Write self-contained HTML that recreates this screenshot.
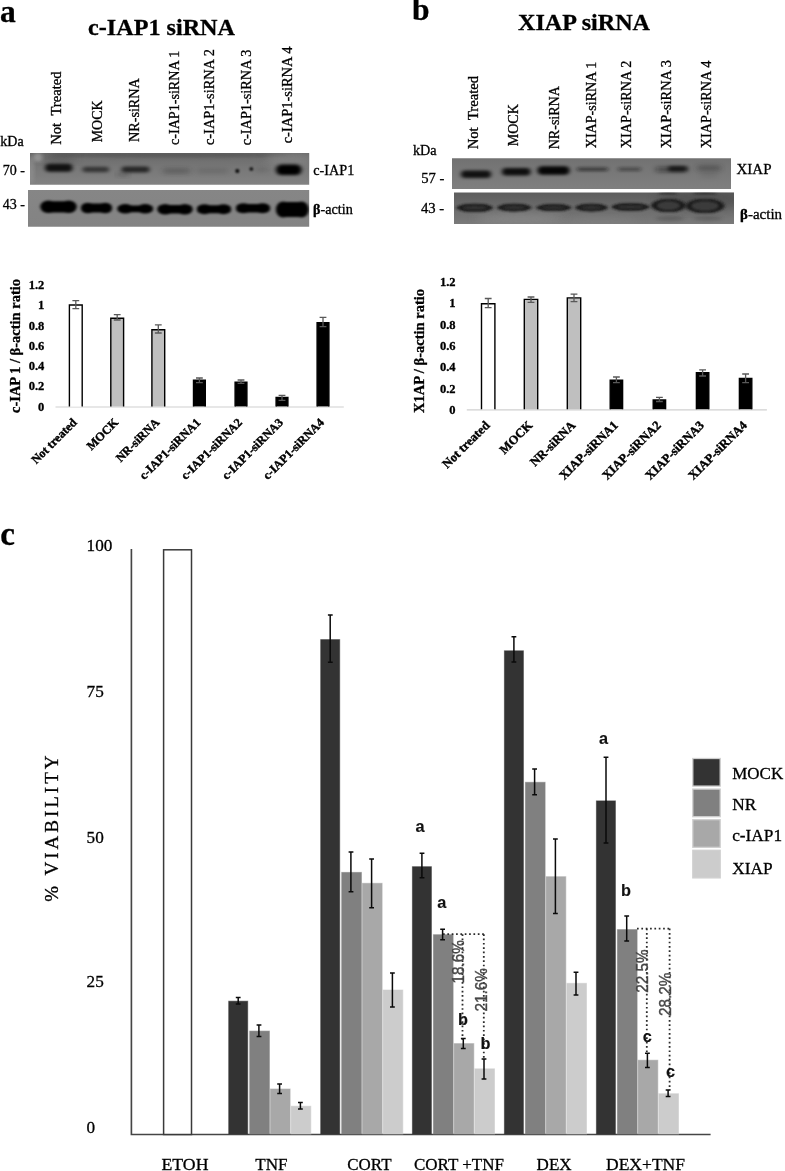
<!DOCTYPE html>
<html><head><meta charset="utf-8"><title>Figure</title>
<style>html,body{margin:0;padding:0;background:#fff}svg{display:block}</style></head>
<body><svg width="785" height="1171" viewBox="0 0 785 1171">
<rect width="785" height="1171" fill="#fff"/>
<text x="0" y="22.2" font-size="31.5" font-family="Liberation Serif, serif" font-weight="bold" stroke="#000" stroke-width="0.3" >a</text>
<text x="412" y="20.3" font-size="31.5" font-family="Liberation Serif, serif" font-weight="bold" stroke="#000" stroke-width="0.3" >b</text>
<text x="0.3" y="544.5" font-size="33" font-family="Liberation Serif, serif" font-weight="bold" stroke="#000" stroke-width="0.3" >c</text>
<text x="88" y="34.5" font-size="24" font-family="Liberation Serif, serif" font-weight="bold" textLength="147" lengthAdjust="spacingAndGlyphs" stroke="#000" stroke-width="0.3" >c-IAP1 siRNA</text>
<text x="518" y="30" font-size="24" font-family="Liberation Serif, serif" font-weight="bold" textLength="132" lengthAdjust="spacingAndGlyphs" stroke="#000" stroke-width="0.3" >XIAP siRNA</text>
<text x="61.5" y="144.8" font-size="14.2" font-family="Liberation Serif, serif" transform="rotate(-90 61.5 144.8)" textLength="73.3" lengthAdjust="spacingAndGlyphs" stroke="#000" stroke-width="0.3" >Not&#160;&#160;Treated</text>
<text x="102.3" y="142.3" font-size="14.2" font-family="Liberation Serif, serif" transform="rotate(-90 102.3 142.3)" textLength="41.8" lengthAdjust="spacingAndGlyphs" stroke="#000" stroke-width="0.3" >MOCK</text>
<text x="139" y="142" font-size="14.2" font-family="Liberation Serif, serif" transform="rotate(-90 139 142)" textLength="63.8" lengthAdjust="spacingAndGlyphs" stroke="#000" stroke-width="0.3" >NR-siRNA</text>
<text x="179" y="145" font-size="14.2" font-family="Liberation Serif, serif" transform="rotate(-90 179 145)" textLength="94.4" lengthAdjust="spacingAndGlyphs" stroke="#000" stroke-width="0.3" >c-IAP1-siRNA 1</text>
<text x="213.5" y="145" font-size="14.2" font-family="Liberation Serif, serif" transform="rotate(-90 213.5 145)" textLength="95.8" lengthAdjust="spacingAndGlyphs" stroke="#000" stroke-width="0.3" >c-IAP1-siRNA 2</text>
<text x="251.2" y="145.3" font-size="14.2" font-family="Liberation Serif, serif" transform="rotate(-90 251.2 145.3)" textLength="95.8" lengthAdjust="spacingAndGlyphs" stroke="#000" stroke-width="0.3" >c-IAP1-siRNA 3</text>
<text x="291.6" y="143.3" font-size="14.2" font-family="Liberation Serif, serif" transform="rotate(-90 291.6 143.3)" textLength="96.8" lengthAdjust="spacingAndGlyphs" stroke="#000" stroke-width="0.3" >c-IAP1-siRNA 4</text>
<text x="0.3" y="146.3" font-size="14" font-family="Liberation Serif, serif" stroke="#000" stroke-width="0.3" >kDa</text>
<text x="2.8" y="174.5" font-size="14" font-family="Liberation Serif, serif" stroke="#000" stroke-width="0.3" >70 -</text>
<text x="2.8" y="209" font-size="14" font-family="Liberation Serif, serif" stroke="#000" stroke-width="0.3" >43 -</text>
<text x="313.3" y="175.2" font-size="14.2" font-family="Liberation Serif, serif" stroke="#000" stroke-width="0.3" >c-IAP1</text>
<text x="313" y="214" font-size="14.2" font-family="Liberation Serif, serif" stroke="#000" stroke-width=".3"><tspan font-weight="bold">β</tspan>-actin</text>
<defs>
<filter id="b1" x="-20%" y="-100%" width="140%" height="300%"><feGaussianBlur stdDeviation="2 1.5"/></filter>
<filter id="b1s" x="-20%" y="-100%" width="140%" height="300%"><feGaussianBlur stdDeviation="1.5 1.2"/></filter>
<filter id="b2" x="-20%" y="-100%" width="140%" height="300%"><feGaussianBlur stdDeviation="3 2"/></filter>
<filter id="b3" x="-50%" y="-50%" width="200%" height="200%"><feGaussianBlur stdDeviation="5"/></filter>
<filter id="b4" x="-50%" y="-100%" width="200%" height="300%"><feGaussianBlur stdDeviation="9 4"/></filter>
<filter id="b0" x="-50%" y="-50%" width="200%" height="200%"><feGaussianBlur stdDeviation="0.8"/></filter>
<linearGradient id="ga1" x1="0" y1="0" x2="0" y2="1"><stop offset="0" stop-color="#686868"/><stop offset=".45" stop-color="#777"/><stop offset="1" stop-color="#838383"/></linearGradient>
<linearGradient id="ga2" x1="0" y1="0" x2="0" y2="1"><stop offset="0" stop-color="#868686"/><stop offset="1" stop-color="#838383"/></linearGradient>
<linearGradient id="gb1" x1="0" y1="0" x2="0" y2="1"><stop offset="0" stop-color="#717171"/><stop offset="1" stop-color="#808080"/></linearGradient>
<linearGradient id="gb2" x1="0" y1="0" x2="0" y2="1"><stop offset="0" stop-color="#5c5c5c"/><stop offset=".5" stop-color="#6c6c6c"/><stop offset="1" stop-color="#7c7c7c"/></linearGradient>
<clipPath id="ca1"><rect x="30" y="153" width="279.2" height="31.7"/></clipPath>
<clipPath id="ca2"><rect x="28" y="190" width="281.2" height="36.8"/></clipPath>
<clipPath id="cb1"><rect x="452" y="158.2" width="279" height="30.8"/></clipPath>
<clipPath id="cb2"><rect x="454" y="192.4" width="280" height="31.6"/></clipPath>
</defs>
<g clip-path="url(#ca1)"><rect x="29" y="152" width="282" height="34" fill="url(#ga1)"/>
<ellipse cx="38" cy="157.5" rx="4.5" ry="4.5" fill="#a0a0a0" opacity="0.8" filter="url(#b1)"/>
<ellipse cx="170" cy="155" rx="120" ry="2.5" fill="#4a4a4a" opacity="0.5" filter="url(#b1)"/>
<ellipse cx="31" cy="170" rx="3" ry="14" fill="#999" opacity="0.6" filter="url(#b1)"/>
<ellipse cx="290" cy="160" rx="25" ry="6" fill="#8a8a8a" opacity="0.7" filter="url(#b3)"/>
<ellipse cx="60" cy="158" rx="16" ry="4" fill="#444" opacity="0.5" filter="url(#b3)"/>
<rect x="45" y="163.8" width="27.5" height="8" rx="4.0" fill="#000" opacity="0.85" filter="url(#b1)"/>
<rect x="82.5" y="166.85" width="26.5" height="5.5" rx="2.75" fill="#000" opacity="0.55" filter="url(#b1)"/>
<rect x="121.5" y="166.6" width="28.0" height="6" rx="3.0" fill="#000" opacity="0.68" filter="url(#b1)"/>
<rect x="117" y="173.0" width="12" height="3" rx="1.5" fill="#222" opacity="0.35" filter="url(#b2)"/>
<rect x="163" y="168.5" width="27" height="5" rx="2.5" fill="#222" opacity="0.32" filter="url(#b2)"/>
<rect x="197" y="168.5" width="31" height="5" rx="2.5" fill="#333" opacity="0.2" filter="url(#b2)"/>
<circle cx="237.3" cy="171" r="2" fill="#000" filter="url(#b0)"/>
<circle cx="251.3" cy="169" r="1.8" fill="#000" filter="url(#b0)"/>
<rect x="255" y="168.0" width="13" height="4" rx="2.0" fill="#333" opacity="0.2" filter="url(#b2)"/>
<rect x="276" y="164.55" width="25.5" height="10.5" rx="5.25" fill="#000" opacity="1" filter="url(#b1)"/>
</g>
<g clip-path="url(#ca2)"><rect x="27" y="189" width="284" height="39" fill="url(#ga2)"/>
<g filter="url(#b1s)"><rect x="40.5" y="201.175" width="36.0" height="11.25" rx="5.625" fill="#000"/><ellipse cx="48.42" cy="206.8" rx="7.92" ry="6.25" fill="#000"/><ellipse cx="68.58" cy="206.8" rx="7.92" ry="6.25" fill="#000"/></g>
<g filter="url(#b1s)"><rect x="81" y="203.5375" width="31" height="8.924999999999999" rx="4.4624999999999995" fill="#000"/><ellipse cx="87.82" cy="208" rx="6.82" ry="5.25" fill="#000"/><ellipse cx="105.18" cy="208" rx="6.82" ry="5.25" fill="#000"/></g>
<g filter="url(#b1s)"><rect x="117.5" y="205.47500000000002" width="35.5" height="6.6499999999999995" rx="3.3249999999999997" fill="#000"/><ellipse cx="125.31" cy="208.8" rx="7.81" ry="4.75" fill="#000"/><ellipse cx="145.19" cy="208.8" rx="7.81" ry="4.75" fill="#000"/></g>
<g filter="url(#b1s)"><rect x="157.5" y="205.10000000000002" width="35.0" height="8.4" rx="4.2" fill="#000"/><ellipse cx="165.2" cy="209.3" rx="7.7" ry="5.25" fill="#000"/><ellipse cx="184.8" cy="209.3" rx="7.7" ry="5.25" fill="#000"/></g>
<g filter="url(#b1s)"><rect x="197" y="205.3" width="34" height="8.0" rx="4.0" fill="#000"/><ellipse cx="204.48" cy="209.3" rx="7.48" ry="5.0" fill="#000"/><ellipse cx="223.52" cy="209.3" rx="7.48" ry="5.0" fill="#000"/></g>
<g filter="url(#b1s)"><rect x="236" y="203.95" width="34" height="8.5" rx="4.25" fill="#000"/><ellipse cx="243.48" cy="208.2" rx="7.48" ry="5.0" fill="#000"/><ellipse cx="262.52" cy="208.2" rx="7.48" ry="5.0" fill="#000"/></g>
<g filter="url(#b1s)"><rect x="276" y="201.9" width="32.60000000000002" height="15.2" rx="7.6" fill="#000"/><ellipse cx="283.172" cy="209.5" rx="7.172000000000005" ry="8.0" fill="#000"/><ellipse cx="301.428" cy="209.5" rx="7.172000000000005" ry="8.0" fill="#000"/></g>
</g>
<text x="477.7" y="149.3" font-size="14.2" font-family="Liberation Serif, serif" transform="rotate(-90 477.7 149.3)" textLength="73.4" lengthAdjust="spacingAndGlyphs" stroke="#000" stroke-width="0.3" >Not&#160;&#160;Treated</text>
<text x="518" y="146.3" font-size="14.2" font-family="Liberation Serif, serif" transform="rotate(-90 518 146.3)" textLength="42.2" lengthAdjust="spacingAndGlyphs" stroke="#000" stroke-width="0.3" >MOCK</text>
<text x="559.3" y="149.3" font-size="14.2" font-family="Liberation Serif, serif" transform="rotate(-90 559.3 149.3)" textLength="63.2" lengthAdjust="spacingAndGlyphs" stroke="#000" stroke-width="0.3" >NR-siRNA</text>
<text x="595.9" y="148.3" font-size="14.2" font-family="Liberation Serif, serif" transform="rotate(-90 595.9 148.3)" textLength="86.6" lengthAdjust="spacingAndGlyphs" stroke="#000" stroke-width="0.3" >XIAP-siRNA 1</text>
<text x="631.2" y="148.3" font-size="14.2" font-family="Liberation Serif, serif" transform="rotate(-90 631.2 148.3)" textLength="87.6" lengthAdjust="spacingAndGlyphs" stroke="#000" stroke-width="0.3" >XIAP-siRNA 2</text>
<text x="671.3" y="148.3" font-size="14.2" font-family="Liberation Serif, serif" transform="rotate(-90 671.3 148.3)" textLength="88.2" lengthAdjust="spacingAndGlyphs" stroke="#000" stroke-width="0.3" >XIAP-siRNA 3</text>
<text x="711.3" y="148.3" font-size="14.2" font-family="Liberation Serif, serif" transform="rotate(-90 711.3 148.3)" textLength="87.6" lengthAdjust="spacingAndGlyphs" stroke="#000" stroke-width="0.3" >XIAP-siRNA 4</text>
<text x="413" y="155.3" font-size="14.2" font-family="Liberation Serif, serif" stroke="#000" stroke-width="0.3" >kDa</text>
<text x="421.2" y="183" font-size="14.7" font-family="Liberation Serif, serif" stroke="#000" stroke-width="0.3" >57 -</text>
<text x="421" y="213.3" font-size="14.7" font-family="Liberation Serif, serif" stroke="#000" stroke-width="0.3" >43 -</text>
<text x="736.5" y="173.8" font-size="15" font-family="Liberation Serif, serif" stroke="#000" stroke-width="0.3" >XIAP</text>
<text x="740" y="218.6" font-size="15" font-family="Liberation Serif, serif" stroke="#000" stroke-width=".3"><tspan font-weight="bold">β</tspan>-actin</text>
<g clip-path="url(#cb1)"><rect x="451" y="157" width="282" height="34" fill="url(#gb1)"/>
<rect x="461" y="170.55" width="30" height="7.5" rx="3.75" fill="#000" opacity="0.85" filter="url(#b1)"/>
<rect x="502" y="168.05" width="28.5" height="7.5" rx="3.75" fill="#000" opacity="0.88" filter="url(#b1)"/>
<rect x="537.5" y="166.35" width="32.0" height="8.5" rx="4.25" fill="#000" opacity="0.95" filter="url(#b1)"/>
<rect x="577" y="167.45" width="31" height="3.5" rx="1.75" fill="#111" opacity="0.6" filter="url(#b1)"/>
<rect x="618" y="167.45" width="23" height="3.5" rx="1.75" fill="#111" opacity="0.45" filter="url(#b1)"/>
<rect x="656" y="167.15" width="31" height="4.5" rx="2.25" fill="#111" opacity="0.55" filter="url(#b2)"/>
<rect x="668" y="166.05" width="19.5" height="5.5" rx="2.75" fill="#000" opacity="0.7" filter="url(#b1)"/>
<rect x="697" y="165.0" width="24" height="6" rx="3.0" fill="#222" opacity="0.35" filter="url(#b2)"/>
<rect x="700" y="170.0" width="18" height="8" rx="4.0" fill="#555" opacity="0.2" filter="url(#b2)"/>
</g>
<g clip-path="url(#cb2)"><rect x="453" y="191" width="283" height="35" fill="url(#gb2)"/>
<ellipse cx="520" cy="219" rx="45" ry="5" fill="#8c8c8c" opacity="0.8" filter="url(#b3)"/>
<ellipse cx="600" cy="222" rx="40" ry="4" fill="#858585" opacity="0.6" filter="url(#b3)"/>
<ellipse cx="700" cy="200" rx="45" ry="9" fill="#4c4c4c" opacity="0.7" filter="url(#b3)"/>
<ellipse cx="668" cy="193.3" rx="10" ry="1.3" fill="#222" opacity="0.7" filter="url(#b1s)"/>
<ellipse cx="705" cy="193.3" rx="12" ry="1.3" fill="#222" opacity="0.7" filter="url(#b1s)"/>
<ellipse cx="670" cy="218.5" rx="14" ry="2.2" fill="#3a3a3a" opacity="0.35" filter="url(#b1)"/>
<ellipse cx="708" cy="218.5" rx="14" ry="2.2" fill="#3a3a3a" opacity="0.3" filter="url(#b1)"/>
<g filter="url(#b1s)" fill="#1c1c1c"><ellipse cx="474.75" cy="207.8" rx="18.25" ry="4.0"/><rect x="461.5" y="204.10000000000002" width="26.5" height="7.4" rx="4.0"/></g>
<ellipse cx="474.75" cy="207.8" rx="12.25" ry="1.7999999999999998" fill="#343434" filter="url(#b0)"/>
<g filter="url(#b1s)" fill="#1c1c1c"><ellipse cx="514.25" cy="207.6" rx="17.25" ry="3.8"/><rect x="502" y="204.1" width="24.5" height="7.0" rx="3.8"/></g>
<ellipse cx="514.25" cy="207.6" rx="11.25" ry="1.5999999999999996" fill="#343434" filter="url(#b0)"/>
<g filter="url(#b1s)" fill="#1c1c1c"><ellipse cx="553.75" cy="207.6" rx="17.75" ry="3.5"/><rect x="541" y="204.4" width="25.5" height="6.4" rx="3.5"/></g>
<ellipse cx="553.75" cy="207.6" rx="11.75" ry="1.2999999999999998" fill="#343434" filter="url(#b0)"/>
<g filter="url(#b1s)" fill="#1c1c1c"><ellipse cx="591.5" cy="207.6" rx="16.5" ry="3.8"/><rect x="580" y="204.1" width="23" height="7.0" rx="3.8"/></g>
<ellipse cx="591.5" cy="207.6" rx="10.5" ry="1.5999999999999996" fill="#343434" filter="url(#b0)"/>
<g filter="url(#b1s)" fill="#1c1c1c"><ellipse cx="630.5" cy="207" rx="19.0" ry="3.8"/><rect x="616.5" y="203.5" width="28.0" height="7.0" rx="3.8"/></g>
<ellipse cx="630.5" cy="207" rx="13.0" ry="1.5999999999999996" fill="#343434" filter="url(#b0)"/>
<g filter="url(#b1s)" fill="#1c1c1c"><ellipse cx="668.5" cy="205.6" rx="17.5" ry="6.5"/><rect x="656" y="199.4" width="25" height="12.4" rx="6.5"/></g>
<ellipse cx="668.5" cy="205.6" rx="11.5" ry="4.3" fill="#3a3a3a" filter="url(#b0)"/>
<g filter="url(#b1s)" fill="#1c1c1c"><ellipse cx="705.0" cy="206" rx="19.5" ry="7.0"/><rect x="690.5" y="199.3" width="29.0" height="13.4" rx="7.0"/></g>
<ellipse cx="705.0" cy="206" rx="13.5" ry="4.8" fill="#3a3a3a" filter="url(#b0)"/>
</g>
<line x1="55.5" y1="407" x2="343.8" y2="407" stroke="#d0d0d0" stroke-width="1.2"/>
<path d="M69.4 406.4V305.0H82.2V406.4" fill="#fff" stroke="#000" stroke-width="1.4"/>
<path d="M75.8 300.6V308.7M72.39999999999999 300.6h6.8M72.39999999999999 308.7h6.8" stroke="#595959" stroke-width="1.3" fill="none"/>
<path d="M110.8 406.4V318.20000000000005H123.6V406.4" fill="#bfbfbf" stroke="#000" stroke-width="1.4"/>
<path d="M117.2 314.6V320M113.8 314.6h6.8M113.8 320h6.8" stroke="#595959" stroke-width="1.3" fill="none"/>
<path d="M151.9 406.4V329.70000000000005H164.7V406.4" fill="#bfbfbf" stroke="#000" stroke-width="1.4"/>
<path d="M158.3 324.8V333M154.9 324.8h6.8M154.9 333h6.8" stroke="#595959" stroke-width="1.3" fill="none"/>
<path d="M193.5 406.4V380.20000000000005H205.3V406.4" fill="#000" stroke="#000" stroke-width="1.4"/>
<path d="M199.4 378V382.6M196.0 378h6.8M196.0 382.6h6.8" stroke="#595959" stroke-width="1.3" fill="none"/>
<path d="M235.1 406.4V382.20000000000005H246.9V406.4" fill="#000" stroke="#000" stroke-width="1.4"/>
<path d="M241 380V383.4M237.6 380h6.8M237.6 383.4h6.8" stroke="#595959" stroke-width="1.3" fill="none"/>
<path d="M276.1 406.4V397.5H287.9V406.4" fill="#000" stroke="#000" stroke-width="1.4"/>
<path d="M282 395.4V400.4M278.6 395.4h6.8M278.6 400.4h6.8" stroke="#595959" stroke-width="1.3" fill="none"/>
<path d="M317.1 406.4V322.8H328.9V406.4" fill="#000" stroke="#000" stroke-width="1.4"/>
<path d="M323 317.4V326.6M319.6 317.4h6.8M319.6 326.6h6.8" stroke="#595959" stroke-width="1.3" fill="none"/>
<text x="44.3" y="288.9" font-size="12.5" font-family="Liberation Serif, serif" font-weight="bold" text-anchor="end" stroke="#000" stroke-width="0.3" >1.2</text>
<text x="44.3" y="309.2" font-size="12.5" font-family="Liberation Serif, serif" font-weight="bold" text-anchor="end" stroke="#000" stroke-width="0.3" >1</text>
<text x="44.3" y="329.5" font-size="12.5" font-family="Liberation Serif, serif" font-weight="bold" text-anchor="end" stroke="#000" stroke-width="0.3" >0.8</text>
<text x="44.3" y="349.8" font-size="12.5" font-family="Liberation Serif, serif" font-weight="bold" text-anchor="end" stroke="#000" stroke-width="0.3" >0.6</text>
<text x="44.3" y="370.1" font-size="12.5" font-family="Liberation Serif, serif" font-weight="bold" text-anchor="end" stroke="#000" stroke-width="0.3" >0.4</text>
<text x="44.3" y="390.4" font-size="12.5" font-family="Liberation Serif, serif" font-weight="bold" text-anchor="end" stroke="#000" stroke-width="0.3" >0.2</text>
<text x="44.3" y="410.7" font-size="12.5" font-family="Liberation Serif, serif" font-weight="bold" text-anchor="end" stroke="#000" stroke-width="0.3" >0</text>
<text x="20" y="346" font-size="14" font-family="Liberation Serif, serif" font-weight="bold" text-anchor="middle" transform="rotate(-90 20 346)" textLength="134" lengthAdjust="spacingAndGlyphs" stroke="#000" stroke-width="0.3" >c-IAP 1 / β-actin ratio</text>
<text x="77.6" y="423.2" font-size="12.1" font-family="Liberation Serif, serif" font-weight="bold" text-anchor="end" transform="rotate(-45 77.6 423.2)" stroke="#000" stroke-width="0.4" >Not treated</text>
<text x="119.0" y="423.2" font-size="12.1" font-family="Liberation Serif, serif" font-weight="bold" text-anchor="end" transform="rotate(-45 119.0 423.2)" stroke="#000" stroke-width="0.4" >MOCK</text>
<text x="160.10000000000002" y="423.2" font-size="12.1" font-family="Liberation Serif, serif" font-weight="bold" text-anchor="end" transform="rotate(-45 160.10000000000002 423.2)" stroke="#000" stroke-width="0.4" >NR-siRNA</text>
<text x="201.20000000000002" y="423.2" font-size="12.1" font-family="Liberation Serif, serif" font-weight="bold" text-anchor="end" transform="rotate(-45 201.20000000000002 423.2)" stroke="#000" stroke-width="0.4" >c-IAP1-siRNA1</text>
<text x="242.8" y="423.2" font-size="12.1" font-family="Liberation Serif, serif" font-weight="bold" text-anchor="end" transform="rotate(-45 242.8 423.2)" stroke="#000" stroke-width="0.4" >c-IAP1-siRNA2</text>
<text x="283.8" y="423.2" font-size="12.1" font-family="Liberation Serif, serif" font-weight="bold" text-anchor="end" transform="rotate(-45 283.8 423.2)" stroke="#000" stroke-width="0.4" >c-IAP1-siRNA3</text>
<text x="324.8" y="423.2" font-size="12.1" font-family="Liberation Serif, serif" font-weight="bold" text-anchor="end" transform="rotate(-45 324.8 423.2)" stroke="#000" stroke-width="0.4" >c-IAP1-siRNA4</text>
<line x1="466.8" y1="409.8" x2="766.9" y2="409.8" stroke="#d0d0d0" stroke-width="1.2"/>
<path d="M481.5 409.2V303.70000000000005H494.9V409.2" fill="#fff" stroke="#000" stroke-width="1.4"/>
<path d="M488.2 298.5V307.7M484.8 298.5h6.8M484.8 307.7h6.8" stroke="#595959" stroke-width="1.3" fill="none"/>
<path d="M524.3 409.2V299.40000000000003H537.7V409.2" fill="#bfbfbf" stroke="#000" stroke-width="1.4"/>
<path d="M531 297V302.4M527.6 297h6.8M527.6 302.4h6.8" stroke="#595959" stroke-width="1.3" fill="none"/>
<path d="M567.3 409.2V297.90000000000003H580.7V409.2" fill="#bfbfbf" stroke="#000" stroke-width="1.4"/>
<path d="M574 294.2V301.6M570.6 294.2h6.8M570.6 301.6h6.8" stroke="#595959" stroke-width="1.3" fill="none"/>
<path d="M610.2 409.2V380.20000000000005H622.6V409.2" fill="#000" stroke="#000" stroke-width="1.4"/>
<path d="M616.4 377V382.6M613.0 377h6.8M613.0 382.6h6.8" stroke="#595959" stroke-width="1.3" fill="none"/>
<path d="M653.2 409.2V400.0H665.6V409.2" fill="#000" stroke="#000" stroke-width="1.4"/>
<path d="M659.4 397.4V401.5M656.0 397.4h6.8M656.0 401.5h6.8" stroke="#595959" stroke-width="1.3" fill="none"/>
<path d="M696.4 409.2V372.8H708.8V409.2" fill="#000" stroke="#000" stroke-width="1.4"/>
<path d="M702.6 369.9V376M699.2 369.9h6.8M699.2 376h6.8" stroke="#595959" stroke-width="1.3" fill="none"/>
<path d="M739.4 409.2V378.40000000000003H751.8V409.2" fill="#000" stroke="#000" stroke-width="1.4"/>
<path d="M745.6 374V382.6M742.2 374h6.8M742.2 382.6h6.8" stroke="#595959" stroke-width="1.3" fill="none"/>
<text x="455.5" y="286.0" font-size="12.5" font-family="Liberation Serif, serif" font-weight="bold" text-anchor="end" stroke="#000" stroke-width="0.3" >1.2</text>
<text x="455.5" y="307.3" font-size="12.5" font-family="Liberation Serif, serif" font-weight="bold" text-anchor="end" stroke="#000" stroke-width="0.3" >1</text>
<text x="455.5" y="328.6" font-size="12.5" font-family="Liberation Serif, serif" font-weight="bold" text-anchor="end" stroke="#000" stroke-width="0.3" >0.8</text>
<text x="455.5" y="349.9" font-size="12.5" font-family="Liberation Serif, serif" font-weight="bold" text-anchor="end" stroke="#000" stroke-width="0.3" >0.6</text>
<text x="455.5" y="371.2" font-size="12.5" font-family="Liberation Serif, serif" font-weight="bold" text-anchor="end" stroke="#000" stroke-width="0.3" >0.4</text>
<text x="455.5" y="392.5" font-size="12.5" font-family="Liberation Serif, serif" font-weight="bold" text-anchor="end" stroke="#000" stroke-width="0.3" >0.2</text>
<text x="455.5" y="413.8" font-size="12.5" font-family="Liberation Serif, serif" font-weight="bold" text-anchor="end" stroke="#000" stroke-width="0.3" >0</text>
<text x="424" y="351" font-size="14" font-family="Liberation Serif, serif" font-weight="bold" text-anchor="middle" transform="rotate(-90 424 351)" textLength="124" lengthAdjust="spacingAndGlyphs" stroke="#000" stroke-width="0.3" >X1AP / β-actin ratio</text>
<text x="490.4" y="426.0" font-size="12.6" font-family="Liberation Serif, serif" font-weight="bold" text-anchor="end" transform="rotate(-45 490.4 426.0)" stroke="#000" stroke-width="0.4" >Not treated</text>
<text x="533.2" y="426.0" font-size="12.6" font-family="Liberation Serif, serif" font-weight="bold" text-anchor="end" transform="rotate(-45 533.2 426.0)" stroke="#000" stroke-width="0.4" >MOCK</text>
<text x="576.2" y="426.0" font-size="12.6" font-family="Liberation Serif, serif" font-weight="bold" text-anchor="end" transform="rotate(-45 576.2 426.0)" stroke="#000" stroke-width="0.4" >NR-siRNA</text>
<text x="618.6" y="426.0" font-size="12.6" font-family="Liberation Serif, serif" font-weight="bold" text-anchor="end" transform="rotate(-45 618.6 426.0)" stroke="#000" stroke-width="0.4" >XIAP-siRNA1</text>
<text x="661.6" y="426.0" font-size="12.6" font-family="Liberation Serif, serif" font-weight="bold" text-anchor="end" transform="rotate(-45 661.6 426.0)" stroke="#000" stroke-width="0.4" >XIAP-siRNA2</text>
<text x="704.8000000000001" y="426.0" font-size="12.6" font-family="Liberation Serif, serif" font-weight="bold" text-anchor="end" transform="rotate(-45 704.8000000000001 426.0)" stroke="#000" stroke-width="0.4" >XIAP-siRNA3</text>
<text x="747.8000000000001" y="426.0" font-size="12.6" font-family="Liberation Serif, serif" font-weight="bold" text-anchor="end" transform="rotate(-45 747.8000000000001 426.0)" stroke="#000" stroke-width="0.4" >XIAP-siRNA4</text>
<path d="M131.4 549V1134.5H710.6" stroke="#454545" stroke-width="1.65" fill="none"/>
<text x="86.6" y="551" font-size="17.2" font-family="Liberation Serif, serif" stroke="#000" stroke-width="0.3" >100</text>
<text x="86.6" y="697" font-size="17.2" font-family="Liberation Serif, serif" stroke="#000" stroke-width="0.3" >75</text>
<text x="86.6" y="842.6" font-size="17.2" font-family="Liberation Serif, serif" stroke="#000" stroke-width="0.3" >50</text>
<text x="86.6" y="987" font-size="17.2" font-family="Liberation Serif, serif" stroke="#000" stroke-width="0.3" >25</text>
<text x="86.6" y="1133" font-size="17.2" font-family="Liberation Serif, serif" stroke="#000" stroke-width="0.3" >0</text>
<text x="58" y="901.8" font-size="19" font-family="Liberation Serif, serif" transform="rotate(-90 58 901.8)" stroke="#000" stroke-width="0.3" letter-spacing="3.0">% VIABILITY</text>
<rect x="163.6" y="549.8" width="27.9" height="584.7" fill="#fff" stroke="#3a3a3a" stroke-width="1.5"/>
<rect x="228.7" y="1001.2" width="19.0" height="132.8" fill="#333333" stroke="#333333" stroke-opacity=".55" stroke-width="1"/>
<rect x="249.7" y="1031.1" width="19.7" height="102.9" fill="#808080" stroke="#808080" stroke-opacity=".55" stroke-width="1"/>
<rect x="270.4" y="1089.0" width="19.7" height="45.0" fill="#a8a8a8" stroke="#a8a8a8" stroke-opacity=".55" stroke-width="1"/>
<rect x="291.1" y="1106.2" width="19.7" height="27.8" fill="#cccccc" stroke="#cccccc" stroke-opacity=".55" stroke-width="1"/>
<path d="M238.2 997.5V1004M235.8 997.5h4.8M235.8 1004h4.8" stroke="#0a0a0a" stroke-width="1.5" fill="none"/>
<path d="M258.9 1025V1036.5M256.6 1025h4.8M256.6 1036.5h4.8" stroke="#0a0a0a" stroke-width="1.5" fill="none"/>
<path d="M279.6 1084V1093.5M277.2 1084h4.8M277.2 1093.5h4.8" stroke="#0a0a0a" stroke-width="1.5" fill="none"/>
<path d="M300.4 1102.5V1109M298.0 1102.5h4.8M298.0 1109h4.8" stroke="#0a0a0a" stroke-width="1.5" fill="none"/>
<rect x="320.7" y="639.6" width="19.0" height="494.4" fill="#333333" stroke="#333333" stroke-opacity=".55" stroke-width="1"/>
<rect x="341.7" y="872.4" width="19.7" height="261.6" fill="#808080" stroke="#808080" stroke-opacity=".55" stroke-width="1"/>
<rect x="362.4" y="883.3" width="19.7" height="250.7" fill="#a8a8a8" stroke="#a8a8a8" stroke-opacity=".55" stroke-width="1"/>
<rect x="383.1" y="990.0" width="19.7" height="144.0" fill="#cccccc" stroke="#cccccc" stroke-opacity=".55" stroke-width="1"/>
<path d="M330.2 614.9V662.3M327.9 614.9h4.8M327.9 662.3h4.8" stroke="#0a0a0a" stroke-width="1.5" fill="none"/>
<path d="M350.9 852V891.8M348.6 852h4.8M348.6 891.8h4.8" stroke="#0a0a0a" stroke-width="1.5" fill="none"/>
<path d="M371.6 859V907.7M369.2 859h4.8M369.2 907.7h4.8" stroke="#0a0a0a" stroke-width="1.5" fill="none"/>
<path d="M392.4 972.9V1007M390.0 972.9h4.8M390.0 1007h4.8" stroke="#0a0a0a" stroke-width="1.5" fill="none"/>
<rect x="412.4" y="866.7" width="19.0" height="267.3" fill="#333333" stroke="#333333" stroke-opacity=".55" stroke-width="1"/>
<rect x="433.4" y="934.7" width="19.7" height="199.3" fill="#808080" stroke="#808080" stroke-opacity=".55" stroke-width="1"/>
<rect x="454.1" y="1043.6" width="19.7" height="90.4" fill="#a8a8a8" stroke="#a8a8a8" stroke-opacity=".55" stroke-width="1"/>
<rect x="474.8" y="1068.8" width="19.7" height="65.2" fill="#cccccc" stroke="#cccccc" stroke-opacity=".55" stroke-width="1"/>
<path d="M421.9 853.3V877.8M419.6 853.3h4.8M419.6 877.8h4.8" stroke="#0a0a0a" stroke-width="1.5" fill="none"/>
<path d="M442.6 929.2V939.8M440.2 929.2h4.8M440.2 939.8h4.8" stroke="#0a0a0a" stroke-width="1.5" fill="none"/>
<path d="M463.3 1038.5V1048.4M460.9 1038.5h4.8M460.9 1048.4h4.8" stroke="#0a0a0a" stroke-width="1.5" fill="none"/>
<path d="M484.0 1059V1078.9M481.6 1059h4.8M481.6 1078.9h4.8" stroke="#0a0a0a" stroke-width="1.5" fill="none"/>
<rect x="504.4" y="650.8" width="19.0" height="483.2" fill="#333333" stroke="#333333" stroke-opacity=".55" stroke-width="1"/>
<rect x="525.4" y="782.3" width="19.7" height="351.7" fill="#808080" stroke="#808080" stroke-opacity=".55" stroke-width="1"/>
<rect x="546.1" y="876.7" width="19.7" height="257.3" fill="#a8a8a8" stroke="#a8a8a8" stroke-opacity=".55" stroke-width="1"/>
<rect x="566.8" y="983.3" width="19.7" height="150.7" fill="#cccccc" stroke="#cccccc" stroke-opacity=".55" stroke-width="1"/>
<path d="M513.9 636.8V661.9M511.5 636.8h4.8M511.5 661.9h4.8" stroke="#0a0a0a" stroke-width="1.5" fill="none"/>
<path d="M534.6 768.9V794.8M532.2 768.9h4.8M532.2 794.8h4.8" stroke="#0a0a0a" stroke-width="1.5" fill="none"/>
<path d="M555.4 839V913.6M553.0 839h4.8M553.0 913.6h4.8" stroke="#0a0a0a" stroke-width="1.5" fill="none"/>
<path d="M576.0 972.2V995M573.6 972.2h4.8M573.6 995h4.8" stroke="#0a0a0a" stroke-width="1.5" fill="none"/>
<rect x="596.4" y="800.9" width="19.0" height="333.1" fill="#333333" stroke="#333333" stroke-opacity=".55" stroke-width="1"/>
<rect x="617.4" y="929.6" width="19.7" height="204.4" fill="#808080" stroke="#808080" stroke-opacity=".55" stroke-width="1"/>
<rect x="638.1" y="1060.2" width="19.7" height="73.8" fill="#a8a8a8" stroke="#a8a8a8" stroke-opacity=".55" stroke-width="1"/>
<rect x="658.8" y="1093.7" width="19.7" height="40.3" fill="#cccccc" stroke="#cccccc" stroke-opacity=".55" stroke-width="1"/>
<path d="M606.0 757.3V843.1M603.6 757.3h4.8M603.6 843.1h4.8" stroke="#0a0a0a" stroke-width="1.5" fill="none"/>
<path d="M626.7 915.9V941M624.3 915.9h4.8M624.3 941h4.8" stroke="#0a0a0a" stroke-width="1.5" fill="none"/>
<path d="M647.4 1053.3V1067.6M645.0 1053.3h4.8M645.0 1067.6h4.8" stroke="#0a0a0a" stroke-width="1.5" fill="none"/>
<path d="M668.1 1090V1096.4M665.7 1090h4.8M665.7 1096.4h4.8" stroke="#0a0a0a" stroke-width="1.5" fill="none"/>
<path d="M443 934.2H484M462.5 934.2V1040M483.8 934.2V1060" stroke="#2a2a2a" stroke-width="1.8" stroke-dasharray="1.7 2.65" fill="none"/>
<path d="M637 928.6H670M646.8 928.6V1054M669.6 928.6V1090" stroke="#2a2a2a" stroke-width="1.8" stroke-dasharray="1.7 2.65" fill="none"/>
<text transform="translate(464.3 983.6) rotate(-90) scale(1 1.09)" font-size="15.3" font-family="Liberation Sans, sans-serif" fill="#454545" stroke="#454545" stroke-width=".35">18.6%</text>
<text transform="translate(486.7 1011.6) rotate(-90) scale(1 1.09)" font-size="15.3" font-family="Liberation Sans, sans-serif" fill="#454545" stroke="#454545" stroke-width=".35">21.6%</text>
<text transform="translate(647.7 992.8) rotate(-90) scale(1 1.09)" font-size="15.3" font-family="Liberation Sans, sans-serif" fill="#454545" stroke="#454545" stroke-width=".35">22.5%</text>
<text transform="translate(670.7 1016) rotate(-90) scale(1 1.09)" font-size="15.3" font-family="Liberation Sans, sans-serif" fill="#454545" stroke="#454545" stroke-width=".35">28.2%</text>
<text x="420" y="832" font-size="16.3" font-family="Liberation Sans, sans-serif" font-weight="bold" text-anchor="middle" fill="#111" stroke="#111" stroke-width="0.15" >a</text>
<text x="441.8" y="907.5" font-size="16.3" font-family="Liberation Sans, sans-serif" font-weight="bold" text-anchor="middle" fill="#111" stroke="#111" stroke-width="0.15" >a</text>
<text x="463" y="1025.3" font-size="16.3" font-family="Liberation Sans, sans-serif" font-weight="bold" text-anchor="middle" fill="#111" stroke="#111" stroke-width="0.15" >b</text>
<text x="485.5" y="1049" font-size="16.3" font-family="Liberation Sans, sans-serif" font-weight="bold" text-anchor="middle" fill="#111" stroke="#111" stroke-width="0.15" >b</text>
<text x="603.5" y="744" font-size="16.3" font-family="Liberation Sans, sans-serif" font-weight="bold" text-anchor="middle" fill="#111" stroke="#111" stroke-width="0.15" >a</text>
<text x="626" y="895.5" font-size="16.3" font-family="Liberation Sans, sans-serif" font-weight="bold" text-anchor="middle" fill="#111" stroke="#111" stroke-width="0.15" >b</text>
<text x="647.2" y="1042" font-size="16.3" font-family="Liberation Sans, sans-serif" font-weight="bold" text-anchor="middle" fill="#111" stroke="#111" stroke-width="0.15" >c</text>
<text x="670.5" y="1077.2" font-size="16.3" font-family="Liberation Sans, sans-serif" font-weight="bold" text-anchor="middle" fill="#111" stroke="#111" stroke-width="0.15" >c</text>
<rect x="692.8" y="758.5" width="27.4" height="27.6" fill="#333333" stroke="#cfcfcf" stroke-width="1.3"/>
<text x="732.2" y="779.2" font-size="17.3" font-family="Liberation Serif, serif" textLength="51" lengthAdjust="spacingAndGlyphs" stroke="#000" stroke-width="0.3" >MOCK</text>
<rect x="692.8" y="789.1" width="27.4" height="27.6" fill="#808080" stroke="#cfcfcf" stroke-width="1.3"/>
<text x="732.2" y="810" font-size="17.3" font-family="Liberation Serif, serif" stroke="#000" stroke-width="0.3" >NR</text>
<rect x="692.8" y="819.7" width="27.4" height="27.6" fill="#a8a8a8" stroke="#cfcfcf" stroke-width="1.3"/>
<text x="732.2" y="840.8" font-size="17.3" font-family="Liberation Serif, serif" stroke="#000" stroke-width="0.3" >c-IAP1</text>
<rect x="692.8" y="850.3" width="27.4" height="27.6" fill="#cccccc" stroke="#cfcfcf" stroke-width="1.3"/>
<text x="732.2" y="873.5" font-size="17.3" font-family="Liberation Serif, serif" stroke="#000" stroke-width="0.3" >XIAP</text>
<text x="161.5" y="1169.5" font-size="17.5" font-family="Liberation Serif, serif" textLength="47" lengthAdjust="spacingAndGlyphs" stroke="#000" stroke-width="0.3" >ETOH</text>
<text x="255.3" y="1169.5" font-size="17.5" font-family="Liberation Serif, serif" textLength="32.3" lengthAdjust="spacingAndGlyphs" stroke="#000" stroke-width="0.3" >TNF</text>
<text x="347.3" y="1169.5" font-size="17.5" font-family="Liberation Serif, serif" textLength="44.2" lengthAdjust="spacingAndGlyphs" stroke="#000" stroke-width="0.3" >CORT</text>
<text x="414" y="1169.5" font-size="17.5" font-family="Liberation Serif, serif" textLength="90" lengthAdjust="spacingAndGlyphs" stroke="#000" stroke-width="0.3" >CORT +TNF</text>
<text x="536.6" y="1169.5" font-size="17.5" font-family="Liberation Serif, serif" textLength="35" lengthAdjust="spacingAndGlyphs" stroke="#000" stroke-width="0.3" >DEX</text>
<text x="606" y="1169.5" font-size="17.5" font-family="Liberation Serif, serif" textLength="79" lengthAdjust="spacingAndGlyphs" stroke="#000" stroke-width="0.3" >DEX+TNF</text>
</svg></body></html>
